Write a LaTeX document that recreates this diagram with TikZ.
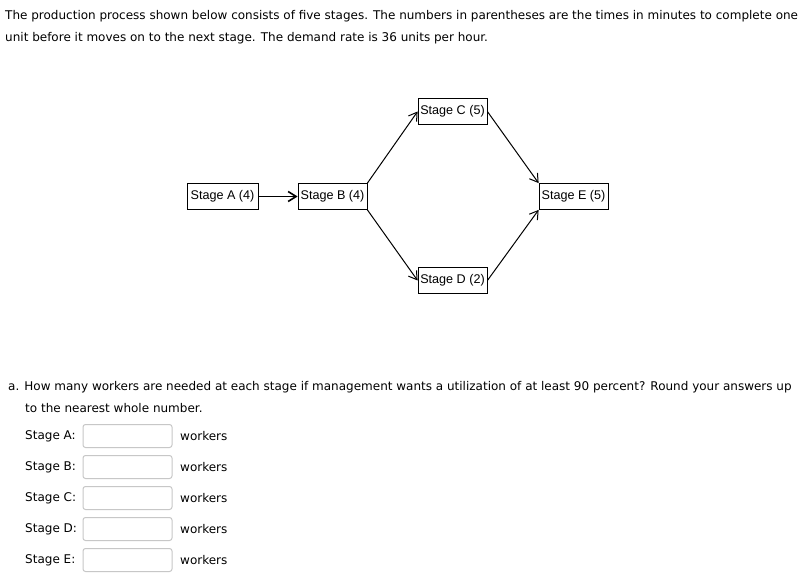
\documentclass[tikz,border=0pt]{standalone}
\usepackage{fontspec}
\setmainfont{DejaVu Sans}
\newfontfamily\diagfont{Liberation Sans}
\usetikzlibrary{arrows.meta}
\tikzset{
  txt/.style={anchor=base west, inner sep=0pt, font=\fontsize{12}{14}\selectfont},
  stagebox/.style={draw, line width=0.8pt, inner sep=0pt, minimum height=26pt, font=\diagfont\fontsize{12.6}{14}\selectfont},
  flow/.style={-{Straight Barb[length=8pt,width=10pt]}, line width=1pt},
  ansbox/.style={draw=black!22, line width=1pt, rounded corners=2.5pt, minimum width=89pt, minimum height=23pt, inner sep=0pt},
}
\begin{document}
\begin{tikzpicture}[x=1pt,y=-1pt]
\useasboundingbox (0,0) rectangle (802,580);
\fill[white] (0,0) rectangle (802,580);
\node[txt] (l1) at (5,19.5) {The production process shown below consists of five stages. The numbers in parentheses are the times in minutes to complete one};
\node[txt] (l2) at (5,41.5) {unit before it moves on to the next stage. The demand rate is 36 units per hour.};

\node[stagebox, minimum width=71pt] (A) at (222.5,196.5) {Stage A (4)};
\node[stagebox, minimum width=69pt] (B) at (332.5,196.5) {Stage B (4)};
\node[stagebox, minimum width=69pt] (C) at (452.5,111.5) {Stage C (5)};
\node[stagebox, minimum width=69pt] (D) at (452.5,280.5) {Stage D (2)};
\node[stagebox, minimum width=69pt] (E) at (573.5,196.5) {Stage E (5)};

\draw[flow, line width=1.6pt] (A.east) -- (B.west);
\draw[flow] (B.north east) -- (C.west);
\draw[flow] (B.south east) -- (D.west);
\draw[flow] (C.east) -- (E.north west);
\draw[flow] (D.east) -- (E.south west);

\node[txt] (q1) at (8,390.5) {a. How many workers are needed at each stage if management wants a utilization of at least 90 percent? Round your answers up};
\node[txt] (q2) at (25,412.5) {to the nearest whole number.};

\foreach \s/\y in {A/436,B/467,C/498,D/529,E/560}{
  \node[txt, anchor=west] (lab\s) at (25,\y) {Stage \s:};
  \node[ansbox] (box\s) at (127.5,\y) {};
  \node[txt, anchor=west] (w\s) at (180,\y) {workers};
}
\end{tikzpicture}
\end{document}
